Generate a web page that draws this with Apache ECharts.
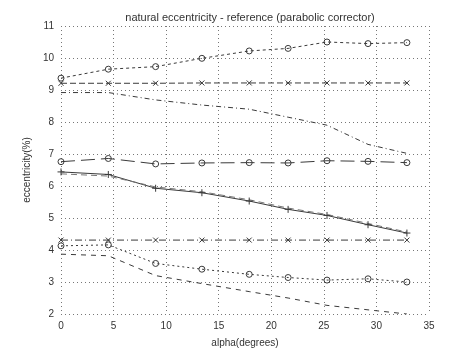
<!DOCTYPE html>
<html><head><meta charset="utf-8">
<script src="https://cdn.jsdelivr.net/npm/echarts@6/dist/echarts.min.js"></script>
<style>html,body{margin:0;padding:0;background:#fff}#c{width:474px;height:355px}</style>
</head><body><div id="c"></div>
<script>
var alpha = [0, 4.5, 9, 13.4, 17.9, 21.6, 25.3, 29.2, 32.9];
var serTopCircle = [9.37, 9.65, 9.73, 9.99, 10.22, 10.3, 10.5, 10.45, 10.48];
var serCrossHigh = [9.21, 9.21, 9.21, 9.22, 9.22, 9.22, 9.22, 9.22, 9.22];
var serDecline = [8.92, 8.92, 8.69, 8.53, 8.4, 8.15, 7.9, 7.3, 7.02];
var serMidCircle = [6.76, 6.86, 6.69, 6.72, 6.73, 6.72, 6.79, 6.77, 6.73];
var serPlus = [6.44, 6.36, 5.93, 5.79, 5.53, 5.27, 5.08, 4.79, 4.53];
var serPlusDash = [6.38, 6.31, 5.97, 5.82, 5.57, 5.31, 5.11, 4.83, 4.56];
var serCrossLow = [4.31, 4.31, 4.31, 4.31, 4.31, 4.31, 4.31, 4.31, 4.31];
var serLowCircle = [4.13, 4.16, 3.58, 3.4, 3.24, 3.14, 3.06, 3.1, 3.0];
var serBottom = [3.87, 3.82, 3.2, 2.95, 2.7, 2.5, 2.27, 2.13, 2.0];
var xTicks = [0, 5, 10, 15, 20, 25, 30, 35];
var yTicks = [2, 3, 4, 5, 6, 7, 8, 9, 10, 11];

function pairs(v){ return alpha.map(function(a,i){ return [a, v[i]]; }); }
var CROSS = 'path://M0,0L10,10M10,0L0,10';
var PLUS = 'path://M5,0L5,10M0,5L10,5';
var RING = 'path://M10,5A5,5 0 1,1 0,5A5,5 0 1,1 10,5Z';
var ink = '#3a3a3a';
var FONT = 'Liberation Sans, Arial, sans-serif';
function mk(data, lineType, symbol, size, color){
  var c = color || ink;
  return {
    type: 'line', data: pairs(data), symbol: symbol || 'none', symbolSize: size || 6,
    lineStyle: {color: c, width: 1, type: lineType},
    itemStyle: {color: 'none', borderColor: c, borderWidth: 1},
    animation: false, silent: true
  };
}
var chart = echarts.init(document.getElementById('c'), null, {renderer: 'canvas'});
chart.setOption({
  backgroundColor: '#fff',
  title: {text: 'natural eccentricity - reference (parabolic corrector)', left: 245, top: 7, textAlign: 'center',
    textStyle: {fontFamily: FONT, fontSize: 11, fontWeight: 'normal', color: '#333'}},
  grid: {left: 61, right: 45, top: 26, bottom: 41},
  xAxis: {type: 'value', min: xTicks[0], max: xTicks[xTicks.length-1], interval: 5,
    name: 'alpha(degrees)', nameLocation: 'middle', nameGap: 24,
    nameTextStyle: {fontFamily: FONT, fontSize: 10, color: '#333'},
    axisLine: {show: false}, axisTick: {show: false},
    axisLabel: {fontFamily: FONT, fontSize: 10, color: '#333', margin: 7},
    splitLine: {show: true, lineStyle: {color: '#777', type: [1, 3], width: 1}}},
  yAxis: {type: 'value', min: yTicks[0], max: yTicks[yTicks.length-1], interval: 1,
    name: 'eccentricity(%)', nameLocation: 'middle', nameGap: 25, nameRotate: 90,
    nameTextStyle: {fontFamily: FONT, fontSize: 10, color: '#333'},
    axisLine: {show: false}, axisTick: {show: false},
    axisLabel: {fontFamily: FONT, fontSize: 10, color: '#333', margin: 7},
    splitLine: {show: true, lineStyle: {color: '#777', type: [1, 3], width: 1}}},
  series: [
    mk(serTopCircle, [3, 3], RING, 6),
    mk(serCrossHigh, [6, 3], CROSS, 5),
    mk(serDecline, [5, 3, 1, 3], 'none'),
    mk(serMidCircle, [14, 6], RING, 6),
    mk(serPlus, 'solid', PLUS, 7),
    mk(serPlusDash, [6, 4], 'none', 6, '#777'),
    mk(serCrossLow, [7, 3, 1, 3], CROSS, 5),
    mk(serLowCircle, [2, 3], RING, 6),
    mk(serBottom, [5, 5], 'none')
  ]
});
</script></body></html>
